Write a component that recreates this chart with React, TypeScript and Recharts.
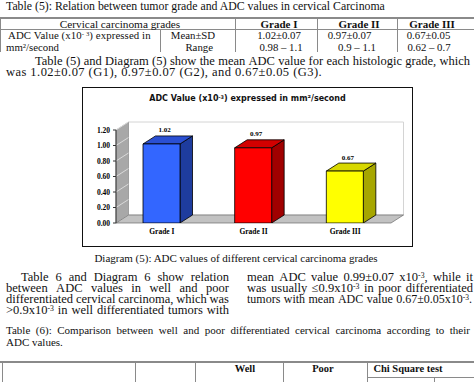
import React from "react";
import { BarChart, Bar, XAxis, YAxis, ReferenceArea, LabelList } from "recharts";

const grades = ["Grade I", "Grade II", "Grade III"];
const adcMean = [1.02, 0.97, 0.67];
const adcTicks = [0, 0.2, 0.4, 0.6, 0.8, 1.0, 1.2];

const chartData = grades.map((grade, i) => ({ grade, adc: adcMean[i] }));
const Y_MAX = adcTicks[adcTicks.length - 1];

const SERIF = '"Liberation Serif", "Times New Roman", serif';
const SANS = '"DejaVu Sans", Verdana, sans-serif';

// fake 3d depth
const DX = 12.5;
const DY = -8;

const faces = [
  { front: "#3366ff", top: "#2a4fd2", side: "#1e3c9e" },
  { front: "#ff0000", top: "#d20000", side: "#a00000" },
  { front: "#ffff00", top: "#d8d800", side: "#a6a600" },
];

const pts = (p: number[][]) => p.map(([a, b]) => `${a},${b}`).join(" ");

const Box3D = (props: any) => {
  const { x, y, width, height, index } = props;
  const c = faces[index % faces.length];
  const r = x + width;
  const b = y + height;
  return (
    <g stroke="#000" strokeWidth={0.8} strokeLinejoin="round">
      <polygon points={pts([[r, y], [r + DX, y + DY], [r + DX, b + DY], [r, b]])} fill={c.side} />
      <polygon points={pts([[x, y], [x + DX, y + DY], [r + DX, y + DY], [r, y]])} fill={c.top} />
      <rect x={x} y={y} width={width} height={height} fill={c.front} />
    </g>
  );
};

// back plane, side wall and floor
const Room = (props: any) => {
  const { x, y, width, height } = props;
  const r = x + width;
  const b = y + height;
  const yAt = (v: number) => b - (v / Y_MAX) * height;
  return (
    <g>
      <polygon points={pts([[x + DX, y + DY], [r + DX, y + DY], [r + DX, b + DY], [x + DX, b + DY]])} fill="#fff" stroke="#d4d4d4" />
      <polygon points={pts([[x, y], [x + DX, y + DY], [x + DX, b + DY], [x, b]])} fill="#a8a8a8" stroke="#8a8a8a" strokeWidth={0.6} />
      {adcTicks.map((v) => (
        <line key={v} x1={x} y1={yAt(v)} x2={x + DX} y2={yAt(v) + DY} stroke="#e6e6e6" strokeWidth={0.8} />
      ))}
      <polygon points={pts([[x, b], [x + DX, b + DY], [r + DX, b + DY], [r, b]])} fill="#c2c2c2" stroke="#6a6a6a" strokeWidth={0.7} />
    </g>
  );
};

const YTick = (p: any) => (
  <text x={p.x} y={p.y} dy={2.6} textAnchor="end" fontFamily={SERIF} fontWeight={700} fontSize={7.5} fill="#000">
    {Number(p.payload.value).toFixed(2)}
  </text>
);

const XTick = (p: any) => (
  <text x={p.x} y={p.y} dy={11} textAnchor="middle" fontFamily={SERIF} fontWeight={700} fontSize={7.5} fill="#000">
    {p.payload.value}
  </text>
);

const ValueLabel = (p: any) => {
  const x = Number(p.x) + Number(p.width) / 2 + 3;
  const y = Number(p.y) - 11.5;
  return (
    <text x={x} y={y} textAnchor="middle" fontFamily={SERIF} fontWeight={700} fontSize={7} fill="#000">
      {Number(p.value).toFixed(2)}
    </text>
  );
};

const Sup = ({ children }: { children: React.ReactNode }) => (
  <sup style={{ fontSize: "0.62em", lineHeight: 0, verticalAlign: "0.45em" }}>{children}</sup>
);

// "x10^{-3}" -> x10 with superscript
const rich = (s: string) =>
  s.split(/(\^\{[^}]*\})/).map((part, i) => (part.startsWith("^{") ? <Sup key={i}>{part.slice(2, -1)}</Sup> : part));

const LH = 11;

type TxtProps = {
  x: number;
  cy: number;
  text: string;
  size?: number;
  bold?: boolean;
  align?: "left" | "center" | "right";
  ls?: number;
};

const Txt = ({ x, cy, text, size = 12.5, bold, align = "left", ls = 0 }: TxtProps) => {
  const w = 400;
  const left = align === "center" ? x - w / 2 : align === "right" ? x - w : x;
  return (
    <div
      style={{
        position: "absolute",
        left,
        top: cy - LH / 2,
        width: w,
        height: LH,
        lineHeight: `${LH}px`,
        fontSize: size,
        fontWeight: bold ? 700 : 400,
        textAlign: align,
        letterSpacing: ls,
        whiteSpace: "nowrap",
      }}
    >
      {rich(text)}
    </div>
  );
};

// justified line: words spread over the width
const JLine = ({ x, cy, w, text, size = 12.5 }: { x: number; cy: number; w: number; text: string; size?: number }) => (
  <div
    style={{
      position: "absolute",
      left: x,
      top: cy - LH / 2,
      width: w,
      height: LH,
      lineHeight: `${LH}px`,
      fontSize: size,
      display: "flex",
      justifyContent: "space-between",
      whiteSpace: "nowrap",
    }}
  >
    {text.split(" ").map((word, i) => (
      <span key={i}>{rich(word)}</span>
    ))}
  </div>
);

const HL = ({ x1, x2, y, t = 1, c = "#8a8a8a" }: { x1: number; x2: number; y: number; t?: number; c?: string }) => (
  <div style={{ position: "absolute", left: x1, top: y, width: x2 - x1, height: t, background: c }} />
);

const VL = ({ x, y1, y2, c = "#8a8a8a" }: { x: number; y1: number; y2: number; c?: string }) => (
  <div style={{ position: "absolute", left: x, top: y1, width: 1, height: y2 - y1, background: c }} />
);

const AdcChart = () => (
  <BarChart
    width={329}
    height={157}
    data={chartData}
    margin={{ top: 42, right: 21, bottom: 0, left: 0 }}
    barSize={37}
  >
    <ReferenceArea y1={0} y2={Y_MAX} shape={Room} ifOverflow="visible" />
    <XAxis dataKey="grade" height={22} interval={0} axisLine={false} tickLine={false} tickSize={0} tickMargin={0} tick={XTick} />
    <YAxis
      width={33}
      domain={[0, Y_MAX]}
      ticks={adcTicks}
      interval={0}
      tickSize={3}
      tickMargin={3}
      axisLine={{ stroke: "#333" }}
      tickLine={{ stroke: "#333" }}
      tick={YTick}
      allowDataOverflow
    />
    <Bar dataKey="adc" shape={Box3D} isAnimationActive={false}>
      <LabelList dataKey="adc" content={ValueLabel} />
    </Bar>
  </BarChart>
);

export default function App() {
  return (
    <div
      style={{
        position: "absolute",
        left: 0,
        top: 0,
        width: 474,
        height: 382,
        overflow: "hidden",
        background: "#fff",
        fontFamily: SERIF,
        color: "#111",
      }}
    >
      <Txt x={6} cy={6.5} size={11.8} text="Table (5): Relation between tumor grade and ADC values in cervical Carcinoma" />

      {/* table 5 */}
      <HL x1={0} x2={474} y={17} t={2} />
      <HL x1={0} x2={474} y={29} />
      <VL x={0} y1={17} y2={52} />
      <VL x={160} y1={29} y2={52} />
      <VL x={235} y1={17} y2={52} />
      <VL x={317} y1={17} y2={52} />
      <VL x={397} y1={17} y2={52} />
      <Txt x={120} cy={24} size={11.3} align="center" text="Cervical carcinoma grades" />
      <Txt x={279} cy={24} size={11} bold align="center" text="Grade I" />
      <Txt x={359} cy={24} size={11} bold align="center" text="Grade II" />
      <Txt x={432} cy={24} size={11} bold align="center" text="Grade III" />
      <Txt x={8} cy={35} size={10.8} ls={0.1} text="ADC Value (x10^{- 3})   expressed in" />
      <Txt x={6} cy={47} size={10.8} text="mm²/second" />
      <Txt x={193} cy={35} size={10.8} align="center" text="Mean±SD" />
      <Txt x={213} cy={47} size={10.8} align="right" text="Range" />
      <Txt x={279} cy={35} size={10.8} align="center" text="1.02±0.07" />
      <Txt x={349.5} cy={35} size={10.8} align="center" text="0.97±0.07" />
      <Txt x={428.5} cy={35} size={10.8} align="center" text="0.67±0.05" />
      <Txt x={281} cy={47} size={10.8} align="center" text="0.98 – 1.1" />
      <Txt x={357} cy={47} size={10.8} align="center" text="0.9 – 1.1" />
      <Txt x={429} cy={47} size={10.8} align="center" text="0.62 – 0.7" />

      <JLine x={35} cy={61} w={435} text="Table (5) and Diagram (5) show the mean ADC value for each histologic grade, which" />
      <Txt x={6} cy={72} ls={0.45} text="was 1.02±0.07 (G1), 0.97±0.07 (G2), and 0.67±0.05 (G3)." />

      {/* diagram 5 */}
      <div style={{ position: "absolute", left: 83, top: 88 }}>
        <AdcChart />
      </div>
      <div
        style={{
          position: "absolute",
          left: 83,
          top: 94,
          width: 329,
          textAlign: "center",
          fontFamily: SANS,
          fontWeight: 700,
          fontSize: 8,
          lineHeight: "10px",
          color: "#111",
        }}
      >
        ADC Value (x10<Sup>-3</Sup>) expressed in mm²/second
      </div>
      <div
        style={{
          position: "absolute",
          left: 82,
          top: 87,
          width: 331,
          height: 160,
          border: "1.5px solid #111",
          boxSizing: "border-box",
          pointerEvents: "none",
        }}
      />

      <Txt x={236} cy={258} size={11} align="center" text="Diagram (5): ADC values of different cervical carcinoma grades" />

      {/* two columns */}
      <JLine x={21} cy={277} w={208} text="Table 6 and Diagram 6 show relation" />
      <JLine x={6} cy={288} w={223} text="between ADC values in well and poor" />
      <JLine x={6} cy={299} w={223} text="differentiated cervical carcinoma, which was" />
      <JLine x={6} cy={310} w={223} text=">0.9x10^{-3} in well differentiated tumors with" />
      <JLine x={247} cy={277} w={226} text="mean ADC value 0.99±0.07 x10^{-3}, while it" />
      <JLine x={247} cy={288} w={226} text="was usually ≤0.9x10^{-3} in poor differentiated" />
      <JLine x={247} cy={299} w={225} size={12} text="tumors with mean ADC value 0.67±0.05x10^{-3}." />

      <JLine x={6} cy={330} w={464} size={11} text="Table (6): Comparison between well and poor differentiated cervical carcinoma according to their" />
      <Txt x={6} cy={342} size={11} text="ADC values." />

      {/* table 6 header */}
      <HL x1={0} x2={474} y={361} t={2} />
      <VL x={2} y1={361} y2={382} />
      <VL x={135} y1={361} y2={382} />
      <VL x={195} y1={361} y2={382} />
      <VL x={283} y1={361} y2={382} />
      <VL x={367} y1={361} y2={382} />
      <HL x1={367} x2={474} y={377} />
      <VL x={434} y1={377} y2={382} />
      <Txt x={245} cy={368} size={10.5} bold align="center" text="Well" />
      <Txt x={323} cy={368} size={10.5} bold align="center" text="Poor" />
      <Txt x={408} cy={368} size={10.5} bold align="center" text="Chi Square test" />
    </div>
  );
}
